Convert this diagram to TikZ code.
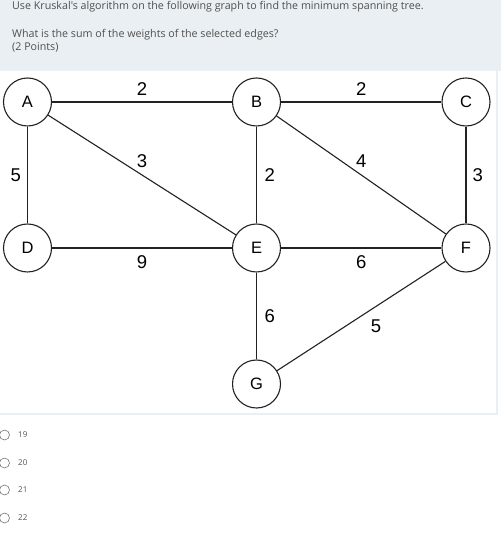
\documentclass[tikz,border=0pt]{standalone}
\usepackage{fontspec}
\setmainfont{Liberation Sans}
\newfontfamily\uifont{Open Sans}
\usepackage{xcolor}
\usetikzlibrary{positioning}
\definecolor{panelbg}{HTML}{E9EFF3}
\definecolor{uitext}{HTML}{505050}
\definecolor{edgecol}{HTML}{222222}

\begin{document}
\begin{tikzpicture}[x=1pt, y=1pt, node distance=146pt, on grid,
		vertex/.style={circle, draw=edgecol, line width=1.1pt, minimum size=48pt, inner sep=0pt, fill=white, font=\fontsize{16.5}{16.5}\selectfont},
		weight/.style={inner sep=0pt, font=\fontsize{18.5}{18.5}\selectfont},
		link/.style={draw=edgecol, line width=1.1pt},
		question/.style={anchor=base west, inner sep=0pt, text=uitext, font=\uifont\fontsize{10.7}{12}\selectfont},
		choice/.style={anchor=west, inner sep=0pt, text=uitext, font=\uifont\fontsize{8}{9}\selectfont},
		radio/.style={circle, draw=uitext!80, line width=0.6pt, minimum size=10pt, inner sep=0pt}]
		
		\useasboundingbox (0,0) rectangle (501,545);
		% header panel and picture frame
		\fill[panelbg] (0,474) rectangle (501,545);
		\fill[panelbg] (0,130) rectangle (498,474);
		\fill[white] (0,132) rectangle (496,474);
		
		\node (line1) [question] at (12,535.5) {Use Kruskal's algorithm on the following graph to find the minimum spanning tree.};
		\node (line2) [question] at (12,507.5) {What is the sum of the weights of the selected edges?};
		\node (line3) [question] at (12,494) {(2 Points)};
		
		% graph
		\node (A) [vertex] at (27.5,443) {A};
		\node (B) [vertex, right=229pt of A] {B};
		\node (C) [vertex, right=209.5pt of B] {C};
		\node (D) [vertex, below=of A] {D};
		\node (E) [vertex, below=of B] {E};
		\node (F) [vertex, below=of C] {F};
		\node (G) [vertex, below=136pt of E] {G};
		
		\draw[link] (A) -- node[weight, above=6pt] {2} (B);
		\draw[link] (B) -- node[weight, above=6pt] {2} (C);
		\draw[link] (A) -- node[weight, left=6pt] {5} (D);
		\draw[link] (A) -- node[weight, above=7pt] {3} (E);
		\draw[link] (B) -- node[weight, right=7.5pt] {2} (E);
		\draw[link] (B) -- node[weight, above=7pt] {4} (F);
		\draw[link] (C) -- node[weight, right=6pt] {3} (F);
		\draw[link] (D) -- node[weight, below=7pt] {9} (E);
		\draw[link] (E) -- node[weight, below=7pt] {6} (F);
		\draw[link] (E) -- node[weight, right=7.5pt] {6} (G);
		\draw[link] (G) -- node[weight, below right=3pt and 9pt] {5} (F);
		
		% answer choices
		\foreach \val/\ypos in {19/110, 20/82, 21/55, 22/27} {
			\node (r\val) [radio] at (4.5,\ypos) {};
			\node (t\val) [choice] at (18,\ypos) {\val};
		}
	\end{tikzpicture}
\end{document}
